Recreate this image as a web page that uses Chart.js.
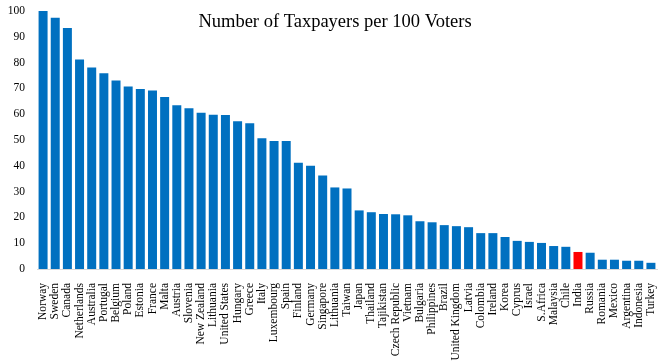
<!DOCTYPE html>
<html lang="en">
<head>
    <meta charset="UTF-8">
    <title>Number of Taxpayers per 100 Voters</title>
    <script src="https://cdn.jsdelivr.net/npm/chart.js"></script>
    <style>
        body { margin: 0; background: #fff; }
        #wrap { width: 672px; height: 361px; }
    </style>
</head>
<body>
    <div id="wrap"><canvas id="chart" width="672" height="361"></canvas></div>

    <script>
        const countries = [
            "Norway", "Sweden", "Canada", "Netherlands", "Australia", "Portugal", "Belgium",
            "Poland", "Estonia", "France", "Malta", "Austria", "Slovenia", "New Zealand",
            "Lithuania", "United States", "Hungary", "Greece", "Italy", "Luxembourg", "Spain",
            "Finland", "Germany", "Singapore", "Lithuania", "Taiwan", "Japan", "Thailand",
            "Tajikistan", "Czech Republic", "Vietnam", "Bulgaria", "Philippines", "Brazil",
            "United Kingdom", "Latvia", "Colombia", "Ireland", "Korea", "Cyprus", "Israel",
            "S.Africa", "Malaysia", "Chile", "India", "Russia", "Romania", "Mexico",
            "Argentina", "Indonesia", "Turkey"
        ];
        const taxpayers = [
            100, 97.3, 93.4, 81.2, 78.1, 75.8, 73.0,
            70.7, 69.7, 69.2, 66.6, 63.4, 62.3, 60.5,
            59.8, 59.7, 57.2, 56.5, 50.7, 49.6, 49.6,
            41.2, 40.0, 36.2, 31.6, 31.2, 22.7, 22.0,
            21.3, 21.2, 20.8, 18.5, 18.1, 17.0,
            16.6, 16.2, 13.9, 13.9, 12.4, 10.9, 10.5,
            10.1, 8.9, 8.6, 6.6, 6.3, 3.6, 3.6,
            3.2, 3.2, 2.4
        ];
        const highlight = "India";
        const yTicks = [0, 10, 20, 30, 40, 50, 60, 70, 80, 90, 100];

        const barColors = countries.map(c => c === highlight ? '#FF0000' : '#0070C0');

        // title sits inside the plot area, so draw it ourselves
        const titlePlugin = {
            id: 'innerTitle',
            afterDraw(chart) {
                const ctx = chart.ctx;
                ctx.save();
                ctx.font = '18.5px "Liberation Serif", "Times New Roman", serif';
                ctx.fillStyle = '#000';
                ctx.textAlign = 'center';
                ctx.textBaseline = 'alphabetic';
                ctx.fillText('Number of Taxpayers per 100 Voters', 335, 27);
                ctx.restore();
            }
        };

        new Chart(document.getElementById('chart'), {
            type: 'bar',
            data: {
                labels: countries,
                datasets: [{
                    data: taxpayers,
                    backgroundColor: barColors,
                    categoryPercentage: 1,
                    barPercentage: 0.74
                }]
            },
            options: {
                responsive: false,
                animation: false,
                layout: { padding: { top: 9, right: 15, bottom: 0, left: 0 } },
                plugins: {
                    legend: { display: false },
                    tooltip: { enabled: false }
                },
                scales: {
                    x: {
                        grid: { display: false },
                        border: { display: true, color: '#d9d9d9' },
                        ticks: {
                            autoSkip: false,
                            minRotation: 90,
                            maxRotation: 90,
                            padding: 6,
                            color: '#000',
                            font: { family: '"Liberation Serif", "Times New Roman", serif', size: 11.5 }
                        },
                        afterFit(scale) { scale.height = 92; }
                    },
                    y: {
                        min: 0,
                        max: 100,
                        grid: { display: false },
                        border: { display: false },
                        afterBuildTicks(scale) { scale.ticks = yTicks.map(v => ({ value: v })); },
                        ticks: {
                            padding: 4,
                            color: '#000',
                            font: { family: '"Liberation Serif", "Times New Roman", serif', size: 11.5 }
                        },
                        afterFit(scale) { scale.width = 37; }
                    }
                }
            },
            plugins: [titlePlugin]
        });
    </script>
</body>
</html>
